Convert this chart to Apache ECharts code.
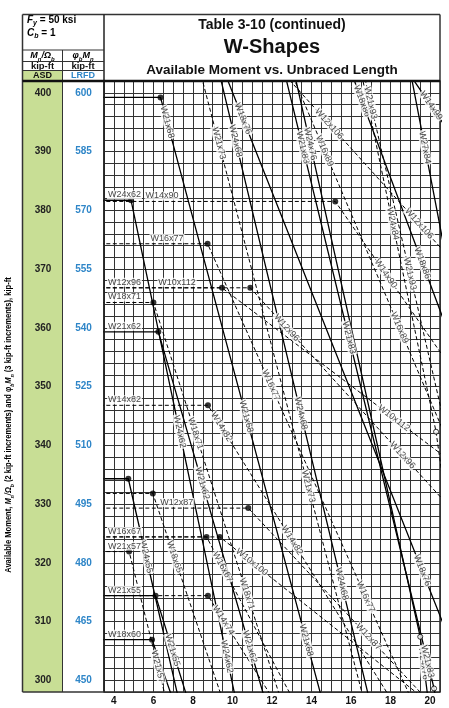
<!DOCTYPE html>
<html><head><meta charset="utf-8">
<script src="https://cdn.jsdelivr.net/npm/echarts@6/dist/echarts.min.js"></script>
<style>html,body{margin:0;padding:0;background:#fff}#c{width:449px;height:708px}</style>
</head><body><div id="c"></div>
<script>
// ---------- data ----------
const asdTicks  = [300,310,320,330,340,350,360,370,380,390,400];
const lrfdTicks = [450,465,480,495,510,525,540,555,570,585,600];
const lbTicks   = [4,6,8,10,12,14,16,18,20];

const shapeNames   = ['W27x84','W24x84','W21x93','W14x99','W18x86','W24x76','W21x83','W16x89','W12x106','W18x76','W24x68','W21x73','W21x68','W14x90','W24x62','W16x77','W12x96','W10x112','W18x71','W21x62','W14x82','W24x55','W18x65','W12x87','W16x67','W10x100','W21x57','W21x55','W14x74','W18x60'];
// available moment on the plateau (kip-ft, ASD)
const plateauM     = [608.8,559.0,551.4,430.0,464.1,499.0,489.0,436.6,409.2,406.7,441.6,429.1,399.2,381.5,381.7,374.3,366.8,366.8,364.3,359.3,346.8,334.3,331.8,329.3,324.4,324.4,321.9,314.4,314.4,306.9];
// unbraced length at the end of the plateau (ft)
const plateauEndLb = [7.31,6.89,6.50,13.5,9.29,6.78,6.46,8.80,11.0,9.22,6.61,6.39,6.36,15.2,4.87,8.74,10.9,9.47,6.00,6.25,8.76,4.73,5.97,10.8,8.69,9.36,4.77,6.11,8.76,5.93];
// end of the straight (inelastic) part
const slopeEndLb   = [20.8,20.3,21.3,45.2,28.6,19.5,20.2,29.7,52.8,27.1,18.9,19.2,18.7,42.5,14.4,27.4,48.2,67.0,19.6,18.1,33.2,13.9,18.8,45.0,27.7,57.7,14.3,17.4,31.0,18.2];
const slopeEndM    = [372.0,342.3,335.3,274.2,289.9,307.4,298.6,270.7,253.2,255.0,269.0,263.7,244.5,249.7,228.8,234.0,228.8,220.0,221.8,221.8,214.8,199.1,204.3,206.1,204.3,195.6,193.9,192.1,195.6,188.6];
// elastic tail after Lr (only where it is on the page)
const tailLb       = [null,20.6,null,null,null,20.0,20.6,null,null,null,null,null,null,null,null,null,null,null,null,null,null,null,null,null,null,null,null,null,null,null];
const tailM        = [null,335.0,null,null,null,294.0,290.0,null,null,null,null,null,null,null,null,null,null,null,null,null,null,null,null,null,null,null,null,null,null,null];
// open circles at Lr
const lrCircleLb   = [20.3,19.5,20.2];
const lrCircleM    = [342.3,307.4,298.6];

const solidShapes  = ['W27x84','W14x99','W18x86','W24x76','W21x83','W18x76','W24x68','W21x68','W24x62','W21x62','W24x55','W21x55','W18x60'];

// labels along sloped lines: shape + moment where the label sits
const slopeLabelShape = ['W21x68','W21x73','W24x68','W18x76','W18x86','W21x93','W14x99','W12x106','W21x83','W24x76','W16x89','W27x84','W24x84','W12x106','W14x90','W21x93','W18x86','W16x89','W12x96','W21x83','W16x77','W14x82','W24x62','W18x71','W21x68','W21x62','W24x68','W10x112','W12x96','W21x73','W24x55','W18x65','W16x67','W10x100','W18x71','W14x74','W21x55','W24x62','W21x62','W21x57','W24x68','W16x77','W18x76','W21x68','W12x87','W24x76','W21x83','W14x82'];
const slopeLabelM     = [395,391.4,391.8,395.6,398.6,398.3,397.8,394.7,390.7,391.3,390.1,390.7,377.7,377.7,369.2,369.2,371,360,360,358.3,350.2,343.1,342.3,342,344.9,333.5,345.4,344.6,338.3,333,321,321,319.3,320.1,314.7,310.2,305.1,304,305.7,302.3,316.4,314.2,318.7,306.8,307.4,302.9,303.2,323.8];

// labels on plateaus (left side)
const plateauLabelShape = ['W24x62','W14x90','W16x77','W12x96','W10x112','W18x71','W21x62','W14x82','W12x87','W16x67','W21x57','W21x55','W18x60'];
const plateauLabelLb    = [3.65,5.55,5.8,3.65,6.2,3.65,3.65,3.65,6.3,3.65,3.65,3.65,3.65];

// ---------- chart ----------
const XMIN=3.5, XMAX=20.5, YMIN=298, YMAX=402;
const chart = echarts.init(document.getElementById('c'), null, {renderer:'canvas'});
const FONT = '"Liberation Sans", Arial, sans-serif';

function curve(i){
  const p=[[0,plateauM[i]],[plateauEndLb[i],plateauM[i]],[slopeEndLb[i],slopeEndM[i]]];
  if(tailLb[i]!=null) p.push([tailLb[i],tailM[i]]);
  return p;
}
const series=[];
shapeNames.forEach((n,i)=>{
  const solid=solidShapes.includes(n);
  series.push({type:'line',name:n,data:curve(i),showSymbol:false,silent:true,clip:true,z:3,animation:false,
    lineStyle:{color:'#000',width:solid?1.3:1,type:solid?'solid':[4,2.5]}});
});
const dots=[];
shapeNames.forEach((n,i)=>{
  const x=plateauEndLb[i], y=plateauM[i];
  if(x>=XMIN&&x<=XMAX&&y>=YMIN&&y<=YMAX) dots.push([x,y]);
});
series.push({type:'scatter',data:dots,symbolSize:6,itemStyle:{color:'#000'},z:6,silent:true,animation:false});
series.push({type:'scatter',data:lrCircleLb.map((x,k)=>[x,lrCircleM[k]]),symbolSize:5,
  itemStyle:{color:'#fff',borderColor:'#000',borderWidth:1},z:6,silent:true,animation:false});

function hdrRich(size,color){
  return {
    t:{fontSize:size,fontWeight:'bold',fontFamily:FONT,color:color,lineHeight:size+3},
    i:{fontSize:size,fontWeight:'bold',fontStyle:'italic',fontFamily:FONT,color:color,lineHeight:size+3},
    s:{fontSize:size-3,fontWeight:'bold',fontStyle:'italic',fontFamily:FONT,color:color,lineHeight:size+3,verticalAlign:'bottom'}
  };
}
const L=22.5, C=62.5, R=104, RR=440, TOP=14.5;
const graphic=[
  {type:'rect',shape:{x:L,y:70.5,width:C-L,height:692-70.5},style:{fill:'#c8de95'},z:-10,silent:true},
  {type:'line',shape:{x1:L,y1:TOP,x2:RR,y2:TOP},style:{stroke:'#333',lineWidth:1.5},z:10},
  {type:'line',shape:{x1:L,y1:TOP,x2:L,y2:692},style:{stroke:'#333',lineWidth:1.5},z:10},
  {type:'line',shape:{x1:RR,y1:TOP,x2:RR,y2:81},style:{stroke:'#333',lineWidth:1.5},z:10},
  {type:'line',shape:{x1:R,y1:TOP,x2:R,y2:692},style:{stroke:'#222',lineWidth:1.5},z:10},
  {type:'line',shape:{x1:C,y1:50,x2:C,y2:692},style:{stroke:'#333',lineWidth:1},z:10},
  {type:'line',shape:{x1:L,y1:50,x2:R,y2:50},style:{stroke:'#333',lineWidth:1},z:10},
  {type:'line',shape:{x1:L,y1:61.5,x2:R,y2:61.5},style:{stroke:'#333',lineWidth:1},z:10},
  {type:'line',shape:{x1:L,y1:70.5,x2:R,y2:70.5},style:{stroke:'#333',lineWidth:1},z:10},
  {type:'line',shape:{x1:L,y1:81,x2:RR,y2:81},style:{stroke:'#111',lineWidth:2.5},z:10},
  {type:'line',shape:{x1:L,y1:692,x2:R,y2:692},style:{stroke:'#333',lineWidth:1.5},z:10},
  {type:'text',left:27,top:15,style:{text:'{i|F}{s|y}{t| = 50 ksi}',rich:hdrRich(10,'#111')}},
  {type:'text',left:27,top:28,style:{text:'{i|C}{s|b}{t| = 1}',rich:hdrRich(10,'#111')}},
  {type:'text',x:42.5,y:56,style:{text:'{i|M}{s|n}{i|/Ω}{s|b}',rich:hdrRich(9,'#111'),align:'center',verticalAlign:'middle'}},
  {type:'text',x:83,y:56,style:{text:'{i|φ}{s|b}{i|M}{s|n}',rich:hdrRich(9,'#111'),align:'center',verticalAlign:'middle'}},
  {type:'text',x:42.5,y:66,style:{text:'kip-ft',font:'bold 9.5px '+FONT,fill:'#111',align:'center',verticalAlign:'middle'}},
  {type:'text',x:83,y:66,style:{text:'kip-ft',font:'bold 9.5px '+FONT,fill:'#111',align:'center',verticalAlign:'middle'}},
  {type:'text',x:42.5,y:76,style:{text:'ASD',font:'bold 9px '+FONT,fill:'#111',align:'center',verticalAlign:'middle'}},
  {type:'text',x:83,y:76,style:{text:'LRFD',font:'bold 9px '+FONT,fill:'#2f86c8',align:'center',verticalAlign:'middle'}},
  {type:'text',x:272,y:25,style:{text:'Table 3-10 (continued)',font:'bold 14px '+FONT,fill:'#111',align:'center',verticalAlign:'middle'}},
  {type:'text',x:272,y:47,style:{text:'W-Shapes',font:'bold 20px '+FONT,fill:'#111',align:'center',verticalAlign:'middle'}},
  {type:'text',x:272,y:70,style:{text:'Available Moment vs. Unbraced Length',font:'bold 13.5px '+FONT,fill:'#111',align:'center',verticalAlign:'middle'}},
  {type:'text',x:9,y:425,rotation:Math.PI/2,scaleX:0.84,style:{text:'{t|Available Moment, }{i|M}{s|n}{i|/Ω}{s|b}{t| (2 kip-ft increments) and φ}{s|b}{i|M}{s|n}{t| (3 kip-ft increments), kip-ft}',rich:hdrRich(9,'#111'),align:'center',verticalAlign:'middle'}}
];

const option={
  animation:false,
  backgroundColor:'#fff',
  grid:{left:R,top:81,width:RR-R,height:692-81,show:true,borderColor:'#222',borderWidth:1.5,backgroundColor:'transparent'},
  xAxis:{type:'value',min:XMIN,max:XMAX,interval:0.5,
    axisLine:{show:false},axisTick:{show:false},
    splitLine:{show:true,lineStyle:{color:'#333',width:1}},
    axisLabel:{margin:4,fontSize:10,fontWeight:'bold',fontFamily:FONT,color:'#111',
      formatter:v=>lbTicks.includes(v)?String(v):'' ,showMinLabel:true,showMaxLabel:true}},
  yAxis:{type:'value',min:YMIN,max:YMAX,interval:2,
    axisLine:{show:false},axisTick:{show:false},
    splitLine:{show:true,lineStyle:{color:'#333',width:1}},
    axisLabel:{margin:0,formatter:v=>{const k=asdTicks.indexOf(v);return k<0?'':'{a|'+asdTicks[k]+'}{b|'+lrfdTicks[k]+'}';},
      rich:{a:{width:40,align:'center',fontSize:10,fontWeight:'bold',fontFamily:FONT,color:'#222'},
            b:{width:41,align:'center',fontSize:10,fontWeight:'bold',fontFamily:FONT,color:'#2f86c8'}}}},
  series:series,
  graphic:graphic
};
chart.setOption(option);

// ---------- labels (rotated along the lines) ----------
function segAt(i,m){
  const p=curve(i);
  for(let k=0;k<p.length-1;k++){
    const a=p[k],b=p[k+1];
    if(a[1]===b[1]) continue;
    const hi=Math.max(a[1],b[1]),lo=Math.min(a[1],b[1]);
    if(m<=hi&&m>=lo) return [a,b];
  }
  return null;
}
const slopeLabels=[];
slopeLabelShape.forEach((n,k)=>{
  const i=shapeNames.indexOf(n); const m=slopeLabelM[k];
  const s=segAt(i,m); if(!s) return;
  const [a,b]=s; const x=a[0]+(m-a[1])*(b[0]-a[0])/(b[1]-a[1]);
  const pa=chart.convertToPixel({gridIndex:0},a), pb=chart.convertToPixel({gridIndex:0},b);
  const ang=Math.atan2(pb[1]-pa[1],pb[0]-pa[0])*180/Math.PI;
  slopeLabels.push({value:[x,m],label:{rotate:-ang,formatter:n}});
});
const plateauLabels=plateauLabelShape.map((n,k)=>{
  const i=shapeNames.indexOf(n);
  return {value:[plateauLabelLb[k],plateauM[i]],label:{formatter:n}};
});
series.push({type:'scatter',data:slopeLabels,symbolSize:0,silent:true,z:8,animation:false,
  label:{show:true,position:'inside',fontSize:9,fontFamily:FONT,color:'#111',backgroundColor:'#fff',padding:[0,1]}});
series.push({type:'scatter',data:plateauLabels,symbolSize:0,silent:true,z:8,animation:false,
  label:{show:true,position:[0,-1],align:'left',verticalAlign:'bottom',fontSize:9,fontFamily:FONT,color:'#111',backgroundColor:'#fff',padding:[0,1]}});
chart.setOption({series:series});
</script></body></html>
